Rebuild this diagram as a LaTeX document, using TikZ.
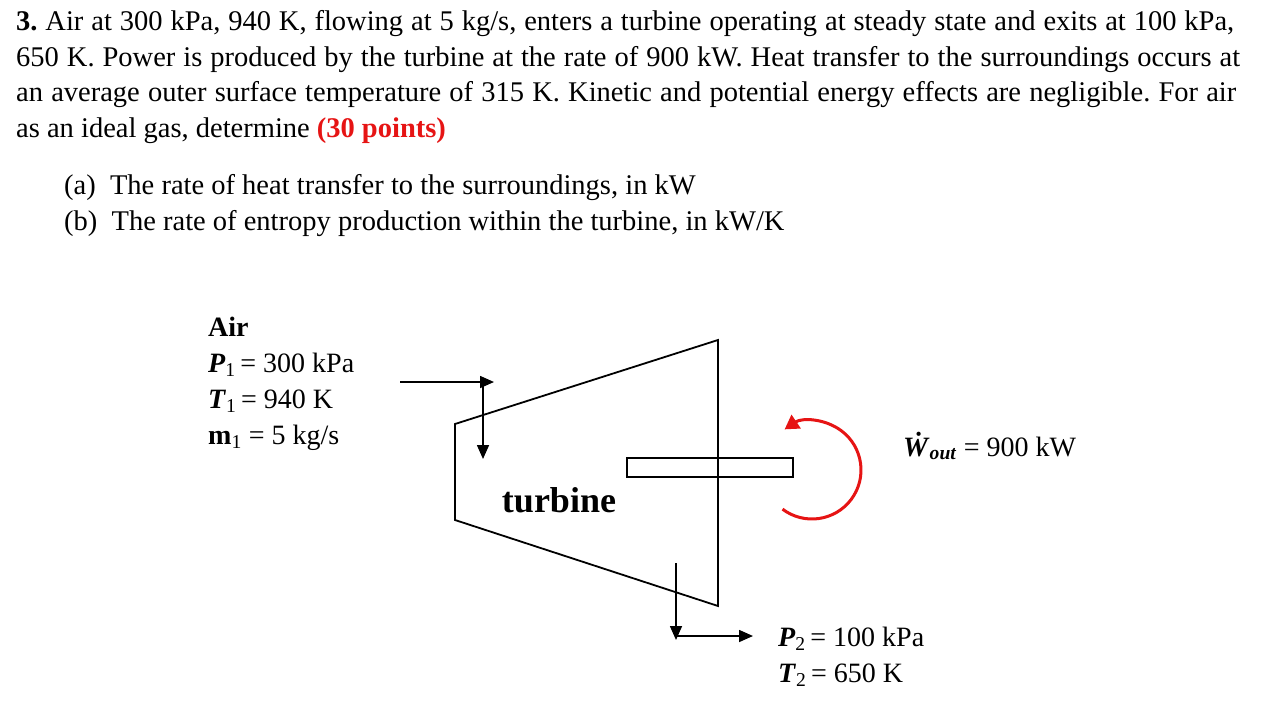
\documentclass[tikz,border=0pt]{standalone}
\usepackage{fontspec}
\setmainfont{Liberation Serif}
\usetikzlibrary{arrows.meta}
\definecolor{myred}{RGB}{230,20,20}
\frenchspacing
\begin{document}
\begin{tikzpicture}[x=1pt,y=-1pt,
  txt/.style={anchor=base west,inner sep=0pt,font=\fontsize{28.5}{32}\selectfont},
  lbl/.style={anchor=base west,inner sep=0pt,font=\fontsize{28}{32}\selectfont},
  line/.style={line width=1.8pt},
  arr/.style={line width=1.6pt,-{Triangle[length=14pt,width=12pt]}}]
\useasboundingbox (0,0) rectangle (1264,712);
\node[txt] (l1) at (16,30) {\makebox[1218pt][s]{\textbf{3.} Air at 300 kPa, 940 K, flowing at 5 kg/s, enters a turbine operating at steady state and exits at 100 kPa,}};
\node[txt] (l2) at (16,66) {\makebox[1224pt][s]{650 K. Power is produced by the turbine at the rate of 900 kW. Heat transfer to the surroundings occurs at}};
\node[txt] (l3) at (16,101) {\makebox[1220pt][s]{an average outer surface temperature of 315 K. Kinetic and potential energy effects are negligible. For air}};
\node[txt] (l4) at (16,137) {as an ideal gas, determine \textcolor{myred}{\textbf{(30 points)}}};
\node[txt] (la) at (64,194) {(a)\ \ The rate of heat transfer to the surroundings, in kW};
\node[txt] (lb) at (64,230) {(b)\ \ The rate of entropy production within the turbine, in kW/K};
% turbine
\draw[line] (455,424) -- (718,340) -- (718,606) -- (455,520) -- cycle;
\node[draw,line width=1.6pt,minimum width=166pt,minimum height=19pt,inner sep=0pt] (shaft) at (710,467.5) {};
\draw[line] (718,440) -- (718,500);
\node[font=\fontsize{36}{40}\selectfont\bfseries] (tb) at (559,500) {turbine};
% inlet
\coordinate (i0) at (400,382); \coordinate (i1) at (494,382);
\coordinate (i2) at (483,385); \coordinate (i3) at (483,459);
\draw[arr] (i0) -- (i1);
\draw[arr] (i2) -- (i3);
% exit
\coordinate (e0) at (676,563); \coordinate (e1) at (676,640);
\coordinate (e2) at (676,636); \coordinate (e3) at (753,636);
\draw[arr] (e0) -- (e1);
\draw[arr] (e2) -- (e3);
% rotation
\coordinate (rc) at (812,470);
\draw[myred,line width=3pt,-{Triangle[length=14pt,width=16pt]}] ([shift={(127:49)}]rc) arc[start angle=127,end angle=-124,radius=49];
% labels
\node[lbl] (air) at (208,336) {\textbf{Air}};
\node[lbl] (p1) at (208,372) {\textbf{\textit{P}}\textsubscript{1}\,= 300 kPa};
\node[lbl] (t1) at (208,408) {\textbf{\textit{T}}\textsubscript{1}\,= 940 K};
\node[lbl] (m1) at (208,444) {\textbf{m}\textsubscript{1} = 5 kg/s};
\node[lbl] (w) at (903,456) {\textbf{\textit{\.W}}\textsubscript{\textbf{\textit{out}}} = 900 kW};
\node[lbl] (p2) at (778,646) {\textbf{\textit{P}}\textsubscript{2}\,= 100 kPa};
\node[lbl] (t2) at (778,682) {\textbf{\textit{T}}\textsubscript{2}\,= 650 K};
\end{tikzpicture}
\end{document}
